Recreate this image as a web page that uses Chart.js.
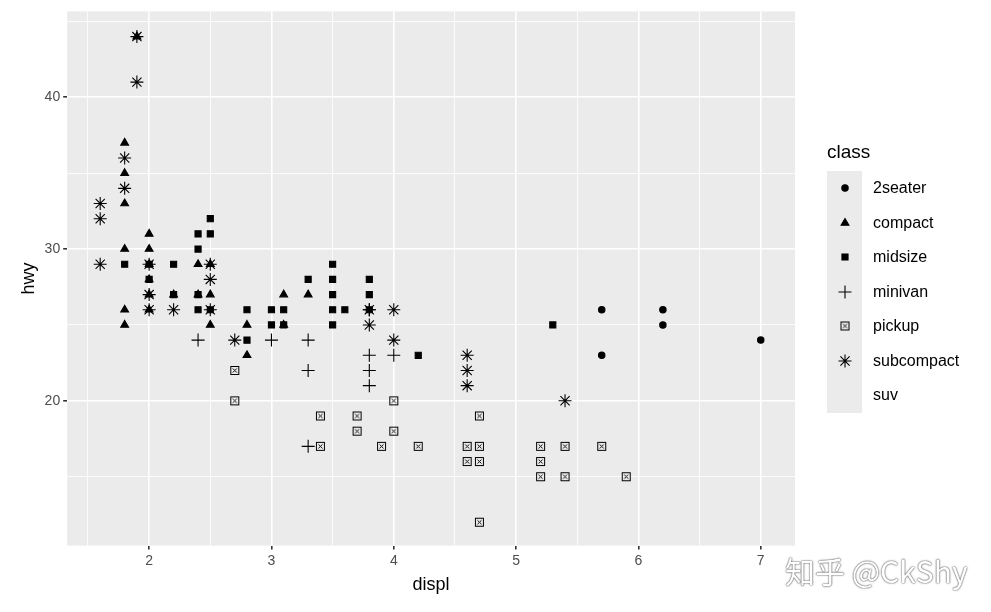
<!DOCTYPE html>
<html><head><meta charset="utf-8">
<script src="https://cdn.jsdelivr.net/npm/chart.js@4"></script>
<style>
body{margin:0;background:#fff;font-family:"Liberation Sans",Arial,sans-serif;}
#wrap{position:relative;width:991px;height:612px;}
#legend{position:absolute;left:827px;top:141px;}
#legend .t{font-size:19px;color:#000;margin-bottom:8px;}
#legend .row{display:flex;align-items:center;height:34.5px;}
#legend .key{width:35px;height:34.5px;background:#EBEBEB;display:flex;align-items:center;justify-content:center;}
#legend .lab{margin-left:11px;font-size:16px;color:#000;}
#wm{position:absolute;left:785px;top:548px;font-size:30px;color:#fff;text-shadow:0 0 2px #555,0 0 1px #333;font-family:"Noto Sans CJK SC",sans-serif;}
</style></head>
<body><div id="wrap"><canvas id="myChart" width="991" height="612"></canvas><div id="legend"></div><div id="wm">知乎 @CkShy</div></div>
<script>
// points, [displ, hwy]
const classes = ['2seater','compact','midsize','minivan','pickup','subcompact','suv'];
const twoSeater = [[5.7,26],[5.7,23],[6.2,26],[6.2,25],[7,24]];
const compact = [[1.8,37],[1.8,35],[1.8,33],[1.8,30],[1.8,26],[1.8,25],[1.9,44],[2,31],[2,30],[2,29],[2,28],[2,27],[2,26],
  [2.2,27],[2.4,29],[2.4,27],[2.5,29],[2.5,27],[2.5,25],[2.8,25],[2.8,23],[3.1,27],[3.1,25],[3.3,27]];
const midsize = [[1.8,29],[2,29],[2,28],[2.2,29],[2.2,27],[2.4,31],[2.4,30],[2.4,27],[2.4,26],[2.5,32],[2.5,31],[2.5,26],
  [2.8,26],[2.8,24],[3,26],[3,25],[3.1,26],[3.1,25],[3.3,28],[3.5,29],[3.5,28],[3.5,27],[3.5,26],[3.5,25],[3.6,26],
  [3.8,28],[3.8,27],[3.8,26],[4.2,23],[5.3,25]];
const minivan = [[2.4,24],[3,24],[3.3,24],[3.3,22],[3.3,17],[3.8,26],[3.8,23],[3.8,22],[3.8,21],[4,23]];
const pickup = [[2.7,22],[2.7,20],[3.4,19],[3.4,17],[3.7,19],[3.7,18],[3.9,17],[4,20],[4,18],[4.2,17],[4.6,17],[4.6,16],
  [4.7,19],[4.7,17],[4.7,16],[4.7,12],[5.2,17],[5.2,16],[5.2,15],[5.4,17],[5.4,15],[5.7,17],[5.9,15]];
const subcompact = [[1.6,33],[1.6,32],[1.6,29],[1.8,36],[1.8,34],[1.9,44],[1.9,41],[2,29],[2,27],[2,26],[2.2,26],
  [2.5,29],[2.5,28],[2.5,26],[2.7,24],[3.8,26],[3.8,25],[4,26],[4,24],[4.6,23],[4.6,22],[4.6,21],[5.4,20]];
const suv = [];
const xTicks = [2,3,4,5,6,7];
const yTicks = [20,30,40];

// boxed x symbol for pickup
function boxX(){
  const c = document.createElement('canvas'); c.width = 11; c.height = 11;
  const g = c.getContext('2d'); g.strokeStyle = '#000'; g.lineWidth = 1;
  g.strokeRect(1.5,1.5,8,8);
  g.beginPath(); g.moveTo(3.5,3.5); g.lineTo(7.5,7.5); g.moveTo(7.5,3.5); g.lineTo(3.5,7.5); g.stroke();
  return c;
}
const pickupIcon = boxX();

const styles = [
  {ps:'circle', r:3.2},
  {ps:'triangle', r:4.5},
  {ps:'rect', r:4.3},
  {ps:'cross', r:6.5},
  {ps:pickupIcon, r:5},
  {ps:'star', r:6.5},
  {ps:false, r:0}
];
const allData = [twoSeater, compact, midsize, minivan, pickup, subcompact, suv];

const datasets = allData.map((d,i)=>({
  label: classes[i],
  data: d.map(p=>({x:p[0], y:p[1]})),
  pointStyle: styles[i].ps,
  pointRadius: styles[i].r,
  pointHoverRadius: styles[i].r,
  backgroundColor: '#000',
  borderColor: '#000',
  borderWidth: 1.1
}));

const panelBg = {
  id:'panelBg',
  beforeDraw(chart){
    const a = chart.chartArea, g = chart.ctx;
    g.save(); g.fillStyle = '#EBEBEB'; g.fillRect(a.left, a.top, a.right-a.left, a.bottom-a.top); g.restore();
  }
};

const isMajorX = v => Math.abs(v - Math.round(v)) < 1e-6;
const isMajorY = v => v % 10 === 0;

new Chart(document.getElementById('myChart'), {
  type:'scatter',
  data:{datasets},
  plugins:[panelBg],
  options:{
    responsive:false, animation:false,
    layout:{padding:{left:14, right:196, top:10, bottom:12}},
    plugins:{legend:{display:false}, tooltip:{enabled:false}},
    scales:{
      x:{
        min:1.33, max:7.28,
        afterBuildTicks(s){ s.ticks = [1.5,2,2.5,3,3.5,4,4.5,5,5.5,6,6.5,7].map(v=>({value:v})); },
        border:{display:false},
        grid:{
          color: c => '#fff',
          lineWidth: c => isMajorX(c.tick.value) ? 1.6 : 0.8,
          tickColor: c => isMajorX(c.tick.value) ? '#333' : 'rgba(0,0,0,0)',
          tickLength:4
        },
        ticks:{color:'#4D4D4D', font:{size:14}, autoSkip:false, maxRotation:0,
          callback: v => xTicks.includes(v) ? String(v) : ''},
        title:{display:true, text:'displ', color:'#000', font:{size:18}, padding:{top:2}}
      },
      y:{
        min:10.46, max:45.66,
        afterBuildTicks(s){ s.ticks = [15,20,25,30,35,40,45].map(v=>({value:v})); },
        border:{display:false},
        grid:{
          color:'#fff',
          lineWidth: c => isMajorY(c.tick.value) ? 1.6 : 0.8,
          tickColor: c => isMajorY(c.tick.value) ? '#333' : 'rgba(0,0,0,0)',
          tickLength:4
        },
        ticks:{color:'#4D4D4D', font:{size:14}, autoSkip:false,
          callback: v => yTicks.includes(v) ? String(v) : ''},
        title:{display:true, text:'hwy', color:'#000', font:{size:18}, padding:{bottom:2}}
      }
    }
  }
});

// legend in ggplot style
const lg = document.getElementById('legend');
lg.innerHTML = '<div class="t">class</div>';
classes.forEach((name,i)=>{
  const row = document.createElement('div'); row.className = 'row';
  const key = document.createElement('div'); key.className = 'key';
  const c = document.createElement('canvas'); c.width = 16; c.height = 16;
  if (styles[i].ps) {
    const g = c.getContext('2d');
    g.fillStyle = '#000'; g.strokeStyle = '#000'; g.lineWidth = 1.1;
    Chart.helpers.drawPoint(g, {pointStyle:styles[i].ps, radius:styles[i].r, borderWidth:1.1}, 8, 8);
  }
  key.appendChild(c);
  const lab = document.createElement('div'); lab.className = 'lab'; lab.textContent = name;
  row.appendChild(key); row.appendChild(lab); lg.appendChild(row);
});
</script></body></html>
